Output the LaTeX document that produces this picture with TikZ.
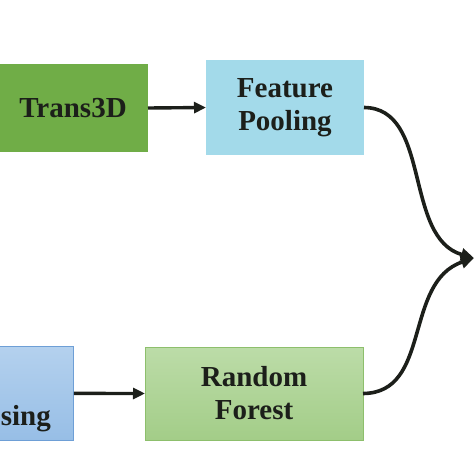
\documentclass[tikz,border=0pt]{standalone}
\usepackage{fontspec}
\setmainfont{Liberation Serif}
\usetikzlibrary{arrows.meta}
\definecolor{tgreen}{HTML}{70AD47}
\definecolor{fblue}{HTML}{A3DAEA}
\definecolor{pblueT}{HTML}{B4D1EE}
\definecolor{pblueB}{HTML}{97BEE6}
\definecolor{pblueD}{HTML}{6E9FD6}
\definecolor{rgreenT}{HTML}{BCDCA8}
\definecolor{rgreenB}{HTML}{A3CD88}
\definecolor{rgreenD}{HTML}{8DBF6C}
\definecolor{ink}{HTML}{1C1F1A}
\tikzset{
  box/.style={minimum width=#1, inner sep=0pt, outer sep=0pt, font=\fontsize{29}{33}\selectfont\bfseries, text=ink, align=center},
  conn/.style={line width=3.4pt, draw=ink, -{Triangle[length=12pt,width=11pt]}},
  curveconn/.style={line width=3.6pt, draw=ink}
}
\begin{document}
\begin{tikzpicture}[x=1pt,y=-1pt]
\useasboundingbox (0,0) rectangle (474,474);
\begin{scope}
\clip (0,0) rectangle (474,474);
% Trans3D
\node[box=150pt, minimum height=88pt, fill=tgreen, anchor=north west] (trans) at (-2,64) {Trans3D};
% Feature Pooling
\node[box=158pt, minimum height=95pt, fill=fblue, anchor=north west] (feat) at (206,60) {Feature\\Pooling};
% left blue box (cut off)
\node[minimum width=75pt, minimum height=94pt, top color=pblueT, bottom color=pblueB, draw=pblueD, line width=0.8pt, anchor=north west, inner sep=0pt] (proc) at (-2,346) {};
\node[font=\fontsize{29}{33}\selectfont\bfseries, text=ink, anchor=base east, inner sep=0pt] (procl) at (51,425) {sing};
% Random Forest
\node[box=218pt, minimum height=93pt, top color=rgreenT, bottom color=rgreenB, draw=rgreenD, line width=0.8pt, anchor=north west] (rf) at (145,347) {Random\\Forest};
% end point
\coordinate (out) at (474,258);
% connectors
\draw[conn] (trans.east) -- (feat.west);
\draw[conn] (proc.east) -- (rf.west);
\draw[curveconn, -{Triangle[length=13pt,width=12pt]}] (feat.east) .. controls (432,108) and (403,238) .. (out);
\draw[curveconn, -{Triangle[length=13pt,width=12pt]}] (rf.east) .. controls (432,393) and (403,282) .. (out);
\end{scope}
\end{tikzpicture}
\end{document}
